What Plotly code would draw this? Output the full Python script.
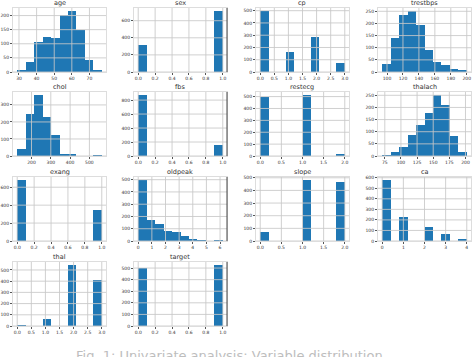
import numpy as np
import plotly.graph_objects as go

# ---------------- data ----------------
names = ["age", "sex", "cp", "trestbps", "chol", "fbs", "restecg",
         "thalach", "exang", "oldpeak", "slope", "ca", "thal", "target"]

# value range (min, max) of each variable -> 10 equal histogram bins
age_range = (29, 77)
sex_range = (0, 1)
cp_range = (0, 3)
trestbps_range = (94, 200)
chol_range = (126, 564)
fbs_range = (0, 1)
restecg_range = (0, 2)
thalach_range = (71, 202)
exang_range = (0, 1)
oldpeak_range = (0, 6.2)
slope_range = (0, 2)
ca_range = (0, 4)
thal_range = (0, 3)
target_range = (0, 1)

# bin counts (10 bins each)
age_counts = [5, 36, 107, 123, 119, 202, 216, 148, 44, 8]
sex_counts = [312, 0, 0, 0, 0, 0, 0, 0, 0, 713]
cp_counts = [497, 0, 0, 167, 0, 0, 284, 0, 0, 77]
trestbps_counts = [32, 139, 234, 251, 193, 89, 43, 27, 11, 8]
chol_counts = [40, 246, 358, 229, 121, 12, 8, 0, 0, 4]
fbs_counts = [872, 0, 0, 0, 0, 0, 0, 0, 0, 153]
restecg_counts = [497, 0, 0, 0, 0, 513, 0, 0, 0, 15]
thalach_counts = [4, 18, 38, 85, 127, 179, 251, 210, 83, 15]
exang_counts = [680, 0, 0, 0, 0, 0, 0, 0, 0, 345]
oldpeak_counts = [497, 173, 135, 78, 70, 38, 19, 3, 0, 6]
slope_counts = [74, 0, 0, 0, 0, 482, 0, 0, 0, 469]
ca_counts = [578, 0, 226, 0, 0, 134, 0, 69, 0, 18]
thal_counts = [7, 0, 0, 64, 0, 0, 544, 0, 0, 410]
target_counts = [499, 0, 0, 0, 0, 0, 0, 0, 0, 526]

# tick labels
age_xticks = [30, 40, 50, 60, 70]
frac_xticks = [0.0, 0.2, 0.4, 0.6, 0.8, 1.0]
cp_xticks = [0.0, 0.5, 1.0, 1.5, 2.0, 2.5, 3.0]
trestbps_xticks = [100, 120, 140, 160, 180, 200]
chol_xticks = [200, 300, 400, 500]
two_xticks = [0.0, 0.5, 1.0, 1.5, 2.0]
thalach_xticks = [75, 100, 125, 150, 175, 200]
oldpeak_xticks = [0, 1, 2, 3, 4, 5, 6]
ca_xticks = [0, 1, 2, 3, 4]

age_yticks = [0, 50, 100, 150, 200]
sex_yticks = [0, 200, 400, 600]
cp_yticks = [0, 100, 200, 300, 400, 500]
trestbps_yticks = [0, 50, 100, 150, 200, 250]
chol_yticks = [0, 100, 200, 300]
fbs_yticks = [0, 200, 400, 600, 800]
restecg_yticks = [0, 100, 200, 300, 400, 500]
thalach_yticks = [0, 50, 100, 150, 200, 250]
exang_yticks = [0, 200, 400, 600]
oldpeak_yticks = [0, 100, 200, 300, 400, 500]
slope_yticks = [0, 100, 200, 300, 400, 500]
ca_yticks = [0, 100, 200, 300, 400, 500, 600]
thal_yticks = [0, 100, 200, 300, 400, 500]
target_yticks = [0, 100, 200, 300, 400, 500]

caption = "Fig. 1: Univariate analysis: Variable distribution"

# ---------------- assembly ----------------
ranges = [age_range, sex_range, cp_range, trestbps_range, chol_range, fbs_range,
          restecg_range, thalach_range, exang_range, oldpeak_range, slope_range,
          ca_range, thal_range, target_range]
counts = [age_counts, sex_counts, cp_counts, trestbps_counts, chol_counts,
          fbs_counts, restecg_counts, thalach_counts, exang_counts,
          oldpeak_counts, slope_counts, ca_counts, thal_counts, target_counts]
xticks = [age_xticks, frac_xticks, cp_xticks, trestbps_xticks, chol_xticks,
          frac_xticks, two_xticks, thalach_xticks, frac_xticks, oldpeak_xticks,
          two_xticks, ca_xticks, cp_xticks, frac_xticks]
xfmt = [".0f", ".1f", ".1f", ".0f", ".0f", ".1f", ".1f", ".0f", ".1f", ".0f",
        ".1f", ".0f", ".1f", ".1f"]
yticks = [age_yticks, sex_yticks, cp_yticks, trestbps_yticks, chol_yticks,
          fbs_yticks, restecg_yticks, thalach_yticks, exang_yticks,
          oldpeak_yticks, slope_yticks, ca_yticks, thal_yticks, target_yticks]

W, H = 474, 357
col_left = [13, 134, 256, 378]
col_w = 93
row_top = [8, 92, 177, 262]
row_h = 64

BAR = "#1f77b4"
GRID = "rgba(200,200,200,0.85)"
TXT = "#333333"

fig = go.Figure()
layout = dict(
    width=W, height=H, margin=dict(l=0, r=0, t=0, b=0, autoexpand=False),
    paper_bgcolor="white", plot_bgcolor="white", showlegend=False,
    font=dict(family="DejaVu Sans", color=TXT), bargap=0,
)
shapes = []
annotations = []

for i, name in enumerate(names):
    k = i + 1
    r, c = divmod(i, 4)
    xa = "x" if k == 1 else f"x{k}"
    ya = "y" if k == 1 else f"y{k}"
    lo, hi = ranges[i]
    n = len(counts[i])
    edges = np.linspace(lo, hi, n + 1)
    centers = (edges[:-1] + edges[1:]) / 2
    w = edges[1] - edges[0]
    fig.add_trace(go.Bar(x=centers, y=counts[i], width=w, marker=dict(color=BAR, line=dict(width=0)),
                         xaxis=xa, yaxis=ya, hoverinfo="x+y"))
    span = hi - lo
    x0d = col_left[c] / W
    x1d = (col_left[c] + col_w) / W
    y1d = 1 - row_top[r] / H
    y0d = 1 - (row_top[r] + row_h) / H
    ymax = max(counts[i]) * 1.05
    layout["xaxis" if k == 1 else f"xaxis{k}"] = dict(
        domain=[x0d, x1d], anchor=ya, range=[lo - 0.05 * span, hi + 0.05 * span],
        tickvals=xticks[i], ticktext=[format(v, xfmt[i]) for v in xticks[i]],
        tickfont=dict(size=4.5, color=TXT), showgrid=False, zeroline=False,
        showline=True, mirror=True, linecolor="#dddddd", linewidth=1,
        ticks="outside", ticklen=2, tickcolor="#555", tickwidth=0.6,
        automargin=False,
    )
    layout["yaxis" if k == 1 else f"yaxis{k}"] = dict(
        domain=[y0d, y1d], anchor=xa, range=[0, ymax],
        tickvals=yticks[i], tickfont=dict(size=4.5, color=TXT),
        showgrid=False, zeroline=False,
        showline=True, mirror=True, linecolor="#dddddd", linewidth=1,
        ticks="outside", ticklen=2, tickcolor="#555", tickwidth=0.6,
        automargin=False,
    )
    # grid lines drawn above the bars
    for t in xticks[i]:
        shapes.append(dict(type="line", layer="above", xref=xa, yref=f"{ya} domain",
                           x0=t, x1=t, y0=0, y1=1, line=dict(color=GRID, width=1)))
    for t in yticks[i]:
        shapes.append(dict(type="line", layer="above", xref=f"{xa} domain", yref=ya,
                           x0=0, x1=1, y0=t, y1=t, line=dict(color=GRID, width=1)))
    if c == 1:
        shapes.append(dict(type="line", layer="above", xref=f"{xa} domain", yref=f"{ya} domain",
                           x0=1, x1=1, y0=0, y1=1, line=dict(color="#444444", width=1)))
    annotations.append(dict(text=name, xref="paper", yref="paper",
                            x=(x0d + x1d) / 2, y=y1d, xanchor="center", yanchor="bottom",
                            yshift=-1, showarrow=False, font=dict(size=6.5, color=TXT)))

annotations.append(dict(text=caption, xref="paper", yref="paper", x=0.485,
                        y=1 - 346 / H, xanchor="center", yanchor="top", showarrow=False,
                        font=dict(size=13, color="#bdbdbd", family="DejaVu Sans")))

layout["shapes"] = shapes
layout["annotations"] = annotations
fig.update_layout(**layout)
fig.write_html("out.html", config={"displayModeBar": False},
               post_script="document.body.style.margin='0';document.body.style.overflow='hidden';")
